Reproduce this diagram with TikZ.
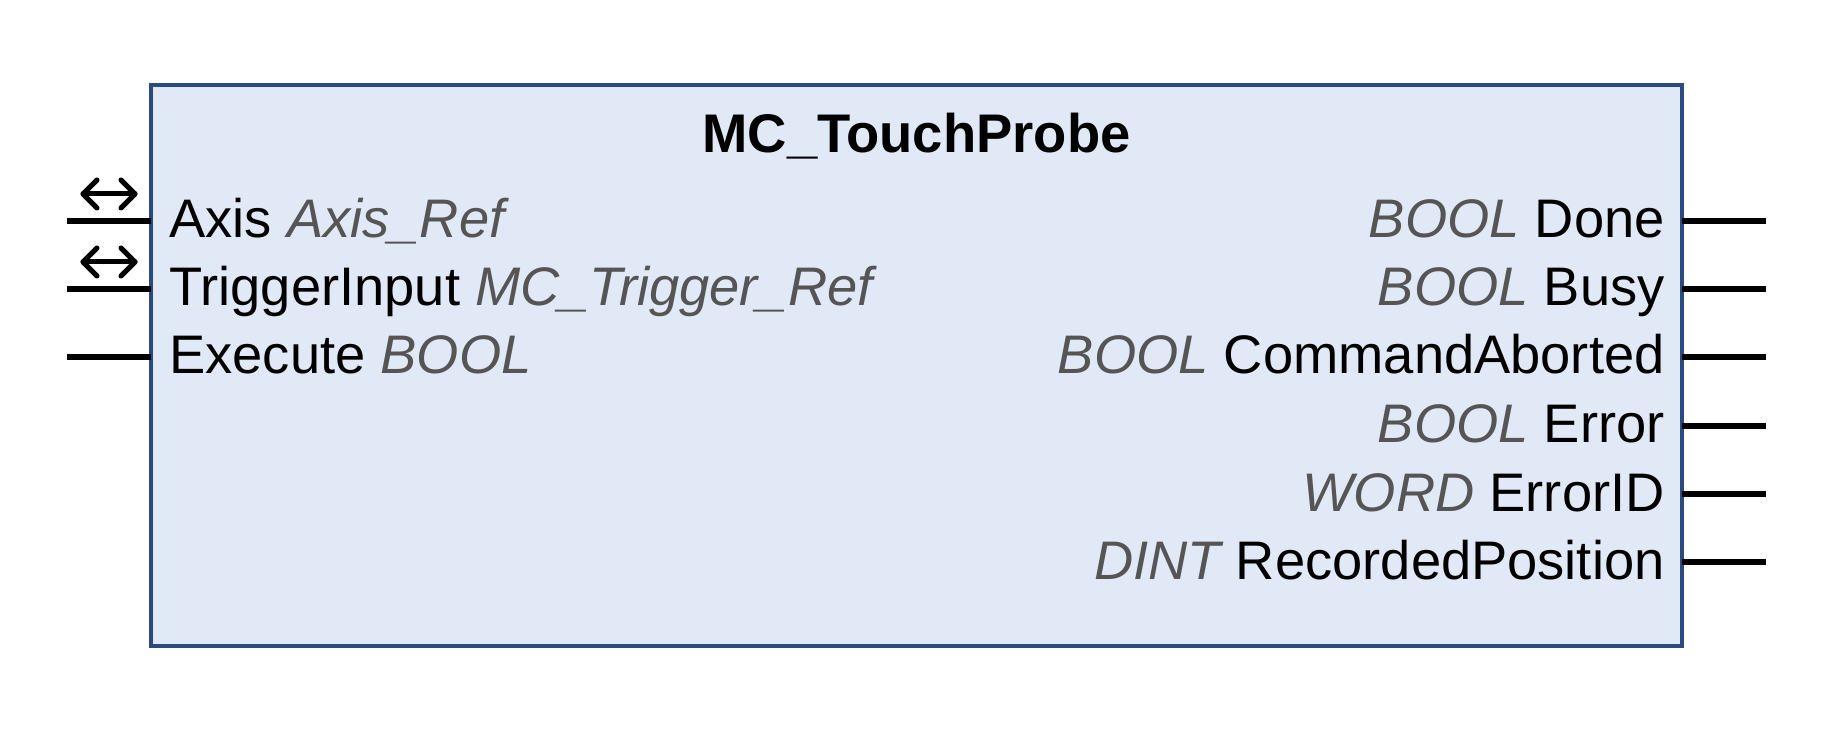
\documentclass[tikz,border=0pt]{standalone}
\usepackage{fontspec}
\setmainfont{Liberation Sans}
\definecolor{fbfill}{RGB}{225,233,246}
\definecolor{fbdraw}{RGB}{43,75,128}
\definecolor{typegray}{RGB}{85,85,85}
\begin{document}
\begin{tikzpicture}[x=0.5pt,y=-0.5pt,
  fbbox/.style={draw=fbdraw,fill=fbfill,line width=2pt},
  pin/.style={draw=black,line width=2.6pt},
  lbl/.style={inner sep=0pt,font=\fontsize{27.15pt}{30pt}\selectfont},
  inlbl/.style={lbl,anchor=base west},
  outlbl/.style={lbl,anchor=base east},
  ttl/.style={inner sep=0pt,anchor=base,font=\fontsize{27.2pt}{30pt}\selectfont\bfseries},
  bidir/.style={draw=black,line width=2.5pt,line cap=round,line join=round}]
\useasboundingbox (0,0) rectangle (1836,732);
\path[fbbox] (151,85) rectangle (1682,646);
\node[ttl] (title) at (916.5,153) {MC\_TouchProbe};
% rows
\def\ra{221}\def\rb{289}\def\rc{357}\def\rd{426}\def\re{494}\def\rf{562}
% left pins
\coordinate (inA) at (151,\ra); \coordinate (inAe) at (67,\ra);
\coordinate (inB) at (151,\rb); \coordinate (inBe) at (67,\rb);
\coordinate (inC) at (151,\rc); \coordinate (inCe) at (67,\rc);
\draw[pin] (inAe) -- (inA);
\draw[pin] (inBe) -- (inB);
\draw[pin] (inCe) -- (inC);
% bidirectional marks
\foreach \yy in {\ra,\rb}{
  \draw[bidir] (83,\yy-27) -- (135,\yy-27);
  \draw[bidir] (97,\yy-41) -- (83,\yy-27) -- (97,\yy-13);
  \draw[bidir] (121,\yy-41) -- (135,\yy-27) -- (121,\yy-13);
}
\node[inlbl] (lA) at (169,\ra+17) {Axis \textcolor{typegray}{\itshape Axis\_Ref}};
\node[inlbl] (lB) at (169,\rb+17) {TriggerInput \textcolor{typegray}{\itshape MC\_Trigger\_Ref}};
\node[inlbl] (lC) at (169,\rc+17) {Execute \textcolor{typegray}{\itshape BOOL}};
% right pins
\foreach \nm/\yy in {oA/\ra,oB/\rb,oC/\rc,oD/\rd,oE/\re,oF/\rf}{
  \coordinate (\nm) at (1682,\yy);
  \coordinate (\nm e) at (1766,\yy);
  \draw[pin] (\nm) -- (\nm e);
}
\node[outlbl] (rA) at (1665,\ra+17) {\textcolor{typegray}{\itshape BOOL} Done};
\node[outlbl] (rB) at (1665,\rb+17) {\textcolor{typegray}{\itshape BOOL} Busy};
\node[outlbl] (rC) at (1665,\rc+17) {\textcolor{typegray}{\itshape BOOL} CommandAborted};
\node[outlbl] (rD) at (1665,\rd+17) {\textcolor{typegray}{\itshape BOOL} Error};
\node[outlbl] (rE) at (1665,\re+17) {\textcolor{typegray}{\itshape WORD} ErrorID};
\node[outlbl] (rF) at (1665,\rf+17) {\textcolor{typegray}{\itshape DINT} RecordedPosition};
\end{tikzpicture}
\end{document}
